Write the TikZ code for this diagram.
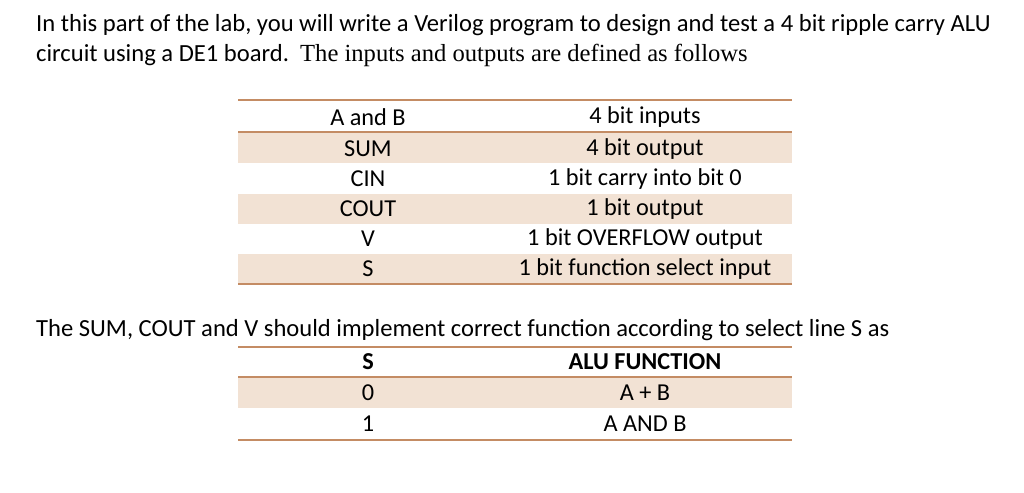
\documentclass[tikz,border=0pt]{standalone}
\usepackage{fontspec}
\setmainfont{Carlito}
\newfontfamily\timesfont{Liberation Serif}
\usetikzlibrary{positioning}
\definecolor{rulebrown}{RGB}{196,140,100}
\definecolor{rowshade}{RGB}{242,226,212}
\begin{document}
\begin{tikzpicture}[x=1pt,y=-1pt,
  txt/.style={anchor=west, inner sep=0pt, font=\fontsize{24.6}{28}\selectfont},
  cell/.style={inner sep=0pt, font=\fontsize{24.3}{28}\selectfont},
  rul/.style={draw=rulebrown, line width=1.6pt},
  shade/.style={fill=rowshade},
]
  \useasboundingbox (0,0) rectangle (1024,492);
  % intro text
  \node[txt] (l1) at (36,25) {In this part of the lab, you will write a Verilog program to design and test a 4 bit ripple carry ALU};
  \node[txt] (l2) at (36,55) {circuit using a DE1 board.\ \ {\timesfont The inputs and outputs are defined as follows}};
  % table of signals
  \fill[shade] (238,133) rectangle (792,163);
  \fill[shade] (238,194) rectangle (792,224);
  \fill[shade] (238,254) rectangle (792,284);
  \draw[rul] (238,100) -- (792,100);
  \draw[rul] (238,132) -- (792,132);
  \draw[rul] (238,284) -- (792,284);
  \node[cell] (a1) at (368,117) {A and B};  \node[cell] (b1) at (645,117) {4 bit inputs};
  \node[cell] (a2) at (368,149) {SUM};      \node[cell] (b2) at (645,149) {4 bit output};
  \node[cell] (a3) at (368,179) {CIN};      \node[cell] (b3) at (645,179) {1 bit carry into bit 0};
  \node[cell] (a4) at (368,209) {COUT};     \node[cell] (b4) at (645,209) {1 bit output};
  \node[cell] (a5) at (368,239) {V};        \node[cell] (b5) at (645,239) {1 bit OVERFLOW output};
  \node[cell] (a6) at (368,269) {S};        \node[cell] (b6) at (645,269) {1 bit function select input};
  % function table
  \node[txt] (l3) at (36,330) {The SUM, COUT and V should implement correct function according to select line S as};
  \fill[shade] (238,378) rectangle (792,408);
  \draw[rul] (238,347) -- (792,347);
  \draw[rul] (238,377) -- (792,377);
  \draw[rul] (238,440) -- (792,440);
  \node[cell, font=\fontsize{24.3}{28}\selectfont\bfseries] (s0) at (368,362) {S};
  \node[cell, font=\fontsize{24.3}{28}\selectfont\bfseries] (f0) at (645,362) {ALU FUNCTION};
  \node[cell] (s1) at (368,393) {0};  \node[cell] (f1) at (645,393) {A + B};
  \node[cell] (s2) at (368,424) {1};  \node[cell] (f2) at (645,424) {A AND B};
\end{tikzpicture}
\end{document}
